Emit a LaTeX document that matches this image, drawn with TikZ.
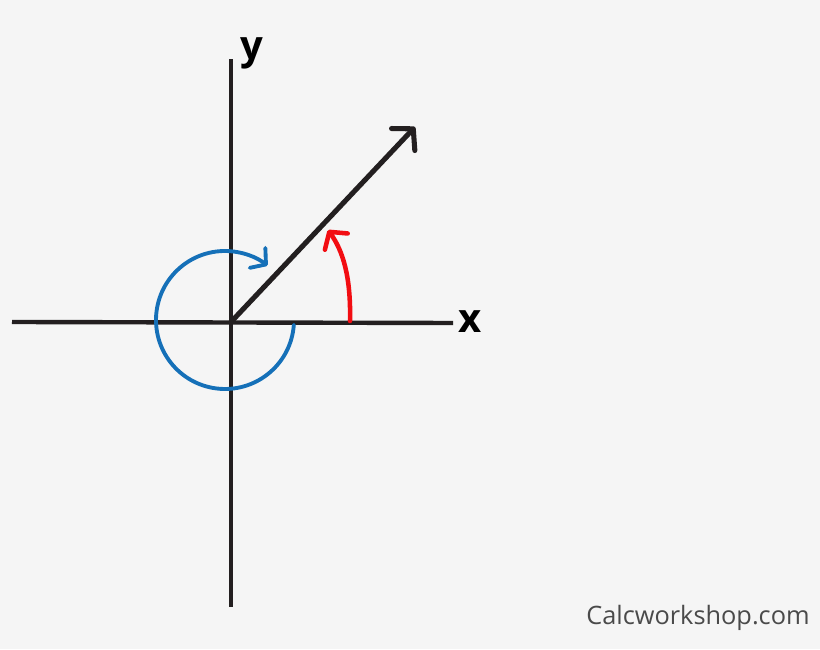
\documentclass[tikz,border=0pt]{standalone}
\usepackage{fontspec}
\setmainfont{Open Sans}
\usetikzlibrary{arrows.meta,calc}
\definecolor{bg}{HTML}{F5F5F5}
\definecolor{axiscol}{HTML}{231F20}
\definecolor{bluearc}{HTML}{1570B8}
\definecolor{redarc}{HTML}{F20D12}
\definecolor{wmark}{HTML}{4A4A4A}
\tikzset{
  axisline/.style={draw=axiscol, line width=3.3pt},
  vecline/.style={draw=axiscol, line width=3.8pt, line cap=round, line join=round,
    -{Straight Barb[length=11pt, width=24pt, line cap=round, line join=round]}},
  bluecurve/.style={draw=bluearc, line width=2.9pt, line cap=round,
    -{Straight Barb[length=8pt, width=19pt, line cap=round, line join=round]}},
  redcurve/.style={draw=redarc, line width=3.4pt, line cap=round,
    -{Straight Barb[length=9pt, width=21pt, line cap=round, line join=round]}},
  axlabel/.style={font=\fontsize{30pt}{30pt}\selectfont\bfseries, text=black, inner sep=0pt},
  wmarkstyle/.style={font=\fontsize{19pt}{19pt}\selectfont, text=wmark, inner sep=0pt}
}
\begin{document}
\begin{tikzpicture}[x=0.75pt, y=0.75pt]
\fill[bg] (0,0) rectangle (820,649);
\useasboundingbox (0,0) rectangle (820,649);
\coordinate (O) at (231,327);
\coordinate (ytop) at (231,590);
\coordinate (ybot) at (231,42);
\coordinate (xleft) at (12,327);
\coordinate (xright) at (453,326);
\coordinate (vtip) at (415,522);
\coordinate (bstart) at ($(225,329)+(-4:69)$);
\coordinate (rstart) at (350,328);
\coordinate (rtip) at (328,419);
\draw[axisline] (ybot) -- (ytop);
\draw[axisline] (xleft) -- (xright);
\draw[vecline] (O) -- (vtip);
\draw[bluecurve] (bstart) arc[start angle=-4, end angle=-308, radius=69];
\draw[redcurve] (rstart) .. controls (351,372) and (343,398) .. (rtip);
\node[axlabel] (ylab) at (252,596) {y};
\node[axlabel] (xlab) at (470,327) {x};
\node[wmarkstyle] (wm) at (698,31) {Calcworkshop.com};
\end{tikzpicture}
\end{document}
